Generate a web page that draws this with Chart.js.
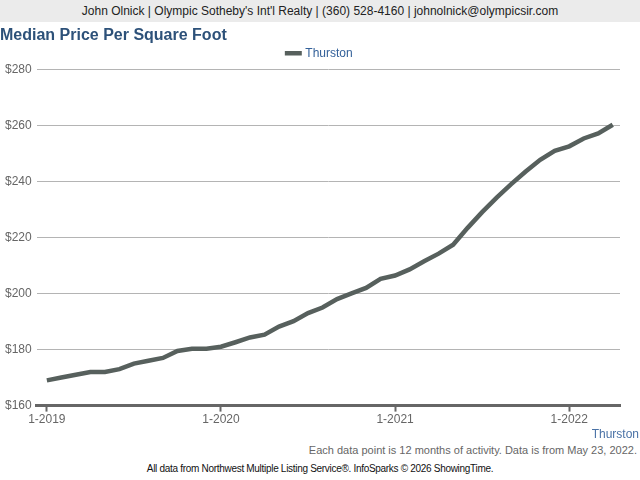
<!DOCTYPE html>
<html>
<head>
<meta charset="utf-8">
<script src="https://cdn.jsdelivr.net/npm/chart.js@4.4.1/dist/chart.umd.min.js"></script>
<style>
	body { margin: 0; width: 640px; height: 480px; background: #fff; font-family: "Liberation Sans", Arial, sans-serif; position: relative; overflow: hidden; }
	#header { position: absolute; left: 0; top: 0; width: 640px; height: 22px; background: #ebebeb; color: #222; font-size: 12px; line-height: 22px; text-align: center; }
	#chartBox { position: absolute; left: 0; top: 22px; width: 640px; height: 406px; }
	#seriesName { position: absolute; right: 1px; top: 427px; font-size: 12px; color: #4a72a6; }
	#note { position: absolute; right: 3px; top: 444px; font-size: 11px; color: #666; }
	#source { position: absolute; left: 0; width: 640px; top: 463px; font-size: 10px; letter-spacing: -0.3px; color: #111; text-align: center; }
</style>
</head>
<body>
<div id="header">John Olnick | Olympic Sotheby's Int'l Realty | (360) 528-4160 | johnolnick@olympicsir.com</div>
<div id="chartBox"><canvas id="priceChart"></canvas></div>
<div id="seriesName">Thurston</div>
<div id="note">Each data point is 12 months of activity. Data is from May 23, 2022.</div>
<div id="source">All data from Northwest Multiple Listing Service®. InfoSparks © 2026 ShowingTime.</div>
<script>
// monthly, 1-2019 .. 4-2022
const months = [
	"1-2019", "2-2019", "3-2019", "4-2019", "5-2019", "6-2019", "7-2019", "8-2019", "9-2019", "10-2019", "11-2019", "12-2019",
	"1-2020", "2-2020", "3-2020", "4-2020", "5-2020", "6-2020", "7-2020", "8-2020", "9-2020", "10-2020", "11-2020", "12-2020",
	"1-2021", "2-2021", "3-2021", "4-2021", "5-2021", "6-2021", "7-2021", "8-2021", "9-2021", "10-2021", "11-2021", "12-2021",
	"1-2022", "2-2022", "3-2022", "4-2022"
];
const thurston = [
	169, 170, 171, 172, 172, 173, 175, 176, 177, 179.5, 180.3, 180.3,
	181, 182.6, 184.3, 185.3, 188.2, 190.1, 193, 195, 198, 200, 202, 205.2,
	206.4, 208.6, 211.5, 214.2, 217.4, 223.4, 229, 234.2, 239, 243.5, 247.7, 250.9,
	252.5, 255.3, 257.1, 260.2
];
const xTickIndexes = [0, 12, 24, 36];
const yTicks = [160, 180, 200, 220, 240, 260, 280];

const points = thurston.map((v, i) => ({ x: i, y: v }));

const ctx = document.getElementById("priceChart");
const priceChart = new Chart(ctx, {
	type: "line",
	data: {
		datasets: [
			{
				label: "Thurston",
				data: points,
				borderColor: "#57605d",
				backgroundColor: "#57605d",
				borderWidth: 4.5,
				pointRadius: 0,
				tension: 0
			}
		]
	},
	options: {
		responsive: true,
		maintainAspectRatio: false,
		animation: false,
		layout: { padding: 0 },
		plugins: {
			title: {
				display: true,
				text: "Median Price Per Square Foot",
				align: "start",
				color: "#2d5179",
				font: { family: "Liberation Sans", size: 16, weight: "bold" },
				padding: { top: 4, bottom: 0 }
			},
			legend: {
				display: true,
				labels: {
					usePointStyle: true,
					pointStyle: "line",
					boxWidth: 16,
					color: "#34619a",
					font: { family: "Liberation Sans", size: 12 },
					padding: 2
				}
			},
			tooltip: { enabled: false }
		},
		scales: {
			x: {
				type: "linear",
				min: -0.7,
				max: 39.5,
				afterBuildTicks: axis => { axis.ticks = xTickIndexes.map(v => ({ value: v })); },
				ticks: {
					color: "#666",
					font: { family: "Liberation Sans", size: 12 },
					padding: 1,
					maxRotation: 0,
					callback: v => months[v]
				},
				grid: { drawOnChartArea: false, drawTicks: true, tickLength: 6, color: "#666", tickWidth: 2 },
				border: { display: true, color: "#666", width: 3 }
			},
			y: {
				min: 160,
				max: 280,
				afterBuildTicks: axis => { axis.ticks = yTicks.map(v => ({ value: v })); },
				ticks: {
					color: "#666",
					font: { family: "Liberation Sans", size: 12 },
					padding: 5,
					callback: v => "$" + v
				},
				grid: { color: "#b4b4b4", drawTicks: false, lineWidth: 1 },
				border: { display: false }
			},
			// empty spacer on the right so the plot stops short of the edge
			spacer: {
				type: "linear",
				position: "right",
				ticks: { display: false },
				grid: { display: false, drawTicks: false },
				border: { display: false },
				afterFit: axis => { axis.width = 20; }
			}
		}
	}
});
</script>
</body>
</html>
